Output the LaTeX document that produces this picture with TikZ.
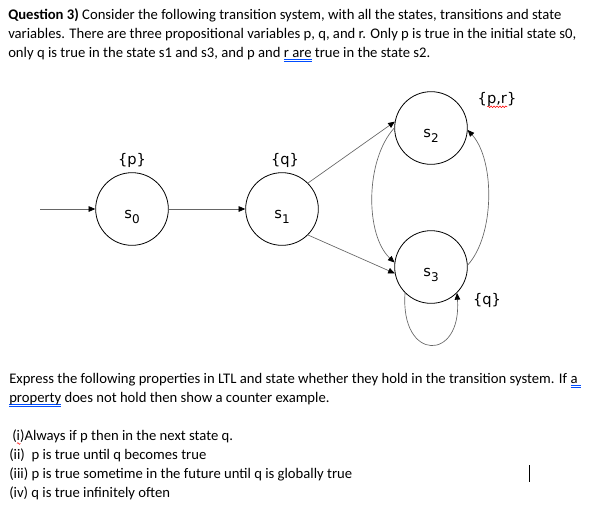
\documentclass[tikz,border=0pt]{standalone}
\usepackage{fontspec}
\setmainfont{Carlito}
\newfontfamily\lblfont{DejaVu Sans}
\usepackage{tikz}
\usetikzlibrary{arrows.meta,decorations.pathmorphing}

\newsavebox{\ulbox}
\newcommand\blueuu[1]{\sbox{\ulbox}{#1}\rlap{\textcolor{blue!70!cyan}{\rule[-2.2pt]{\wd\ulbox}{0.4pt}}}\rlap{\textcolor{blue!70!cyan}{\rule[-3.6pt]{\wd\ulbox}{0.4pt}}}\usebox{\ulbox}}
\newcommand\redwave[1]{\sbox{\ulbox}{#1}\rlap{\tikz[baseline=0pt]\draw[red,line width=0.4pt,decorate,decoration={snake,amplitude=0.6pt,segment length=2.2pt}] (0pt,-2.6pt) -- (\wd\ulbox,-2.6pt);}\usebox{\ulbox}}
\newcommand{\stlabel}[1]{\raisebox{-7pt}[0pt][0pt]{s\raisebox{-4pt}{\fontsize{9}{10}\selectfont #1}}}

\begin{document}
\begin{tikzpicture}[x=0.75pt,y=-0.75pt,
  state/.style={draw,circle,minimum size=54.5pt,inner sep=0pt,line width=0.6pt,font=\lblfont\fontsize{11}{13}\selectfont},
  prop/.style={inner sep=0pt,font=\lblfont\fontsize{11}{13}\selectfont},
  edge/.style={draw=black!60,line width=0.5pt,-{Triangle[color=black,length=5pt,width=4.2pt]}},
  txt/.style={anchor=base west,inner sep=0pt,font=\fontsize{11}{13}\selectfont}]
\useasboundingbox (0,0) rectangle (591,522);

% question text
\node[txt] (l1) at (8,19) {\textbf{Question 3)} Consider the following transition system, with all the states, transitions and state};
\node[txt] (l2) at (8,38) {variables. There are three propositional variables p, q, and r. Only p is true in the initial state s0,};
\node[txt] (l3) at (8,57) {only q is true in the state s1 and s3, and p and \blueuu{r are} true in the state s2.};

% states
\node[state] (s0) at (132,209) {\stlabel{0}};
\node[state] (s1) at (282,209) {\stlabel{1}};
\node[state] (s2) at (431,128) {\stlabel{2}};
\node[state] (s3) at (431,267) {\stlabel{3}};
\coordinate (init) at (40,209);

\node[prop] (p0) at (132,160) {\{p\}};
\node[prop] (p1) at (285,160) {\{q\}};
\node[prop] (p2) at (497,100) {\{\redwave{p,r}\}};
\node[prop] (p3) at (487,300) {\{q\}};

% transitions
\draw[edge] (init) -- (s0);
\draw[edge] (s0) -- (s1);
\draw[edge] (s1.45) -- (s2.170);
\draw[edge] (s1.-45) -- (s3.190);
\draw[edge] (s2.180) .. controls (365,160) and (365,235) .. (s3.173);
\draw[edge] (s3.3) .. controls (495,235) and (495,160) .. (s2.-3);
\draw[edge] (s3.-135) .. controls (400,362) and (462,362) .. (s3.-45);

% properties
\node[txt] (e1) at (9,383) {Express the following properties in LTL and state whether they hold in the transition system. If \blueuu{a\ }};
\node[txt] (e2) at (9,402) {\blueuu{property} does not hold then show a counter example.};
\node[txt] (q1) at (12,440) {(\redwave{i})Always if p then in the next state q.};
\node[txt] (q2) at (9,459) {(ii)\ \ p is true until q becomes true};
\node[txt] (q3) at (9,478) {(iii) p is true sometime in the future until q is globally true};
\node[txt] (q4) at (9,497) {(iv) q is true infinitely often};
\draw[line width=0.6pt] (529,465) -- (529,482);
\end{tikzpicture}
\end{document}
